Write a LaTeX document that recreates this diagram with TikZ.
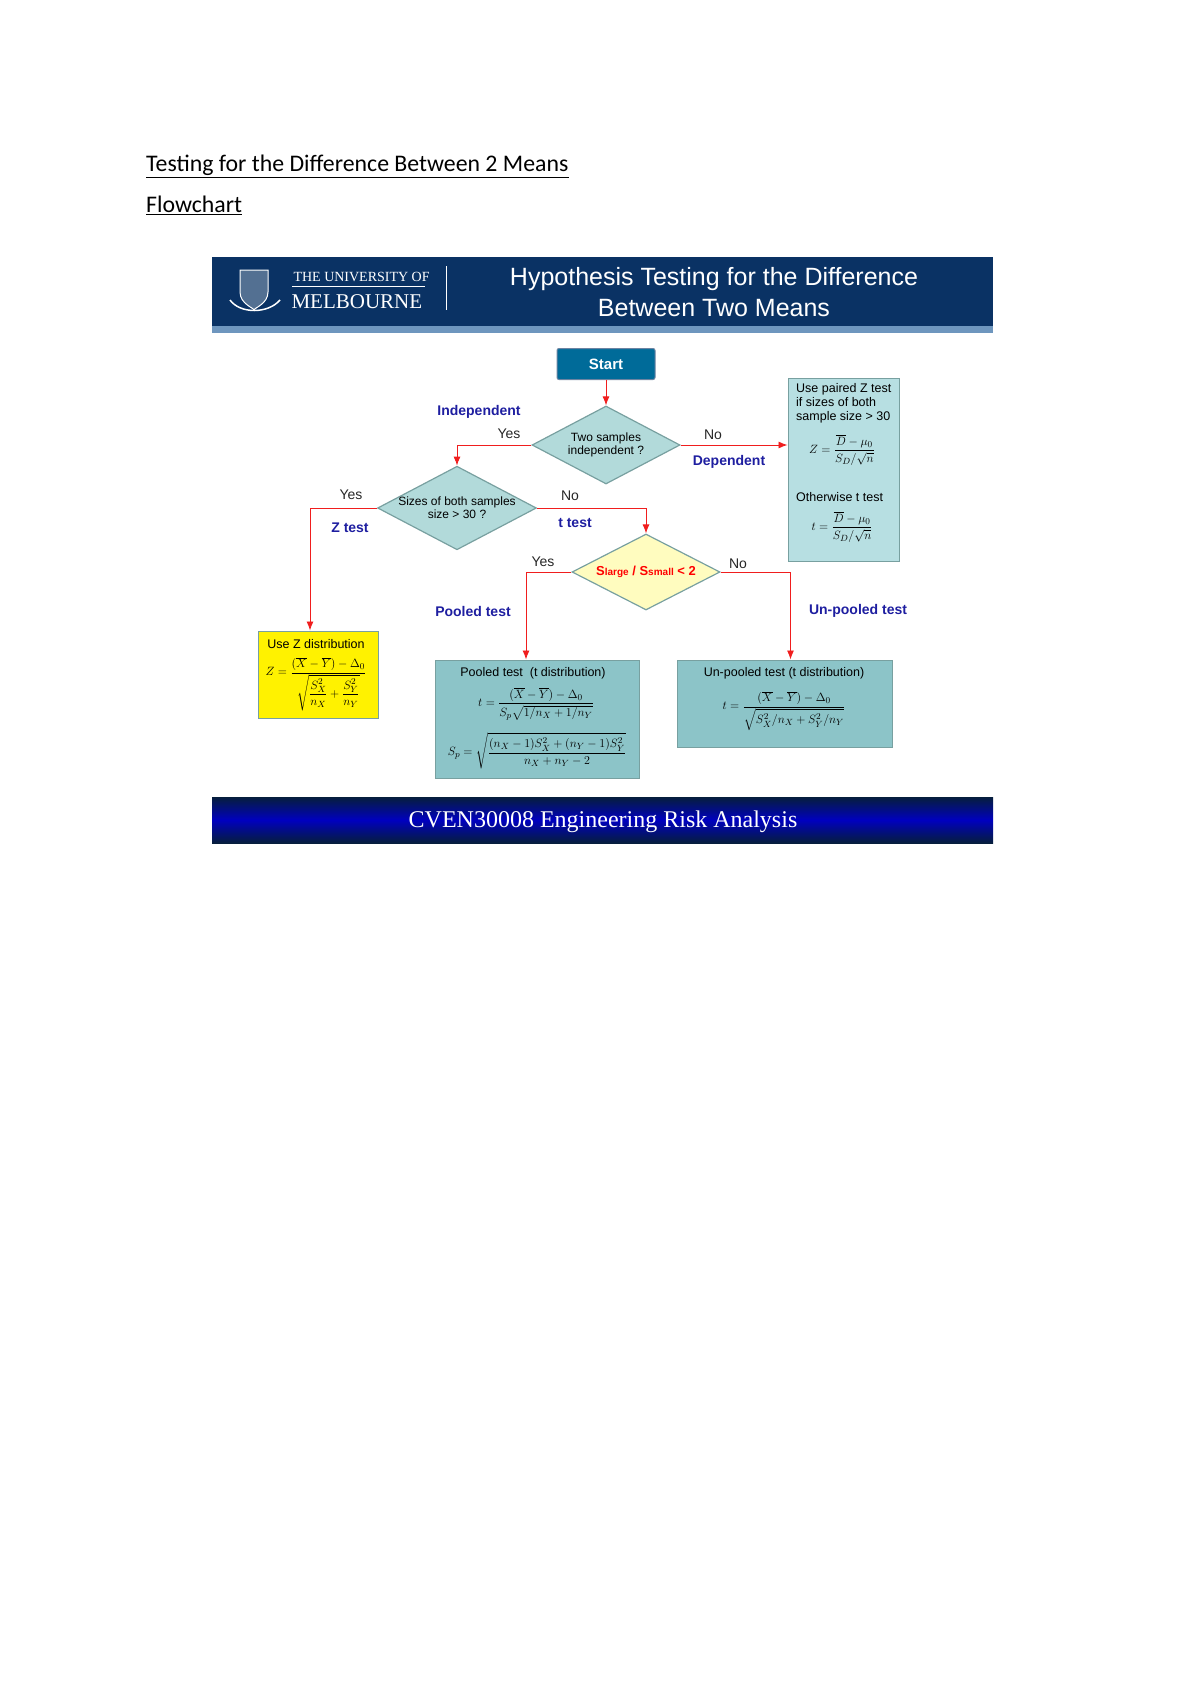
\documentclass[tikz,border=0pt]{standalone}
\usepackage{amsmath}
\usepackage{fontspec}
\setmainfont{Liberation Sans}
\newfontfamily\calib{Carlito}
\newfontfamily\tms{Liberation Serif}
\usetikzlibrary{shapes.geometric,arrows.meta}
\definecolor{navy}{RGB}{10,50,100}
\definecolor{strip}{RGB}{110,150,190}
\definecolor{dfill}{RGB}{178,218,218}
\definecolor{dline}{RGB}{120,160,160}
\definecolor{bfill1}{RGB}{183,223,226}
\definecolor{bfill2}{RGB}{140,196,200}
\definecolor{lblue}{RGB}{30,30,160}
\definecolor{arr}{RGB}{240,30,30}
\tikzset{
 dia/.style={diamond,aspect=1.9,draw=dline,line width=1.2pt,fill=dfill,inner sep=0pt,align=center,font=\fontsize{12}{13}\selectfont},
 boxa/.style={draw=dline,line width=1pt,fill=bfill1},
 conn/.style={draw=arr,line width=0.9pt,-{Latex[length=9pt,width=7pt]}},
 yn/.style={font=\fontsize{14}{16}\selectfont,text=black!85},
 bl/.style={font=\bfseries\fontsize{14}{16}\selectfont,text=lblue},
 txt/.style={font=\fontsize{12.5}{14}\selectfont,align=left,inner sep=0pt},
 mth/.style={font=\fontsize{12.5}{14}\selectfont,inner sep=0pt}
}
\begin{document}
\begin{tikzpicture}[x=1pt,y=-1pt]
\useasboundingbox (0,0) rectangle (1200,1696);
% page title
\node[anchor=base west,inner sep=0pt,font=\calib\fontsize{23.8}{26}\selectfont] (t1) at (146,172) {Testing for the Difference Between 2 Means};
\draw[line width=1.3pt] (t1.south west)++(0,1) -- ([yshift=-1pt]t1.south east);
\node[anchor=base west,inner sep=0pt,font=\calib\fontsize{23.8}{26}\selectfont] (t2) at (146,213) {Flowchart};
\draw[line width=1.3pt] (t2.south west)++(0,1) -- ([yshift=-1pt]t2.south east);
% header
\fill[strip] (212,322) rectangle (993,333);
\fill[navy] (212,257) rectangle (993,326);
\draw[white,line width=0.8pt] (446,266) -- (446,310);
% crest
\draw[white,line width=1pt,fill=navy!70!white] (240,270) -- (268,270) -- (268,292) .. controls (268,304) and (254,308) .. (254,310) .. controls (254,308) and (240,304) .. (240,292) -- cycle;
\draw[white,line width=1.5pt] (230,300) .. controls (240,314) and (268,314) .. (280,300);
\node[text=white,font=\tms\fontsize{14}{15}\selectfont,anchor=west] (u1) at (290,277) {THE UNIVERSITY OF};
\draw[white,line width=0.4pt] (292,286) -- (425,286);
\node[text=white,font=\tms\fontsize{21}{22}\selectfont,anchor=west] (u2) at (288,302) {MELBOURNE};
\node[text=white,font=\fontsize{25}{31}\selectfont,align=center] (ht) at (714,292) {Hypothesis Testing for the Difference\\Between Two Means};
% footer
\shade[top color=navy!60!black,bottom color=navy!60!black,middle color=blue!75!black] (212,797) rectangle (993,843);
\node[text=white,font=\tms\fontsize{24}{26}\selectfont] (ft) at (603,822) {CVEN30008 Engineering Risk Analysis};
% nodes
\node[draw=navy!60,line width=1pt,fill=blue!30!cyan!60!black,rounded corners=2pt,minimum width=98pt,minimum height=31pt,text=white,font=\bfseries\fontsize{15}{17}\selectfont] (start) at (606,364) {Start};
\node[dia,minimum width=148pt,minimum height=78pt] (d1) at (606,445) {Two samples\\independent ?};
\node[dia,minimum width=148pt,minimum height=72pt] (d2) at (457,508) {Sizes of both samples\\size > 30 ?};
\node[dia,minimum width=148pt,minimum height=76pt,fill=yellow!25,text=red,font=\bfseries\fontsize{13}{14}\selectfont] (d3) at (646,572) {S{\fontsize{10}{11}\selectfont large} / S{\fontsize{10}{11}\selectfont small} < 2};
\node[boxa,minimum width=111pt,minimum height=183pt] (rb) at (843.5,469.5) {};
\node[txt,anchor=north west] at (796,383) {Use paired Z test\\if sizes of both\\sample size > 30};
\node[mth] at (842,450) {$Z=\dfrac{\overline{D}-\mu_0}{S_D/\sqrt{n}}$};
\node[txt,anchor=north west] at (796,492) {Otherwise t test};
\node[mth] at (842,527) {$t=\dfrac{\overline{D}-\mu_0}{S_D/\sqrt{n}}$};
\node[draw=dline,line width=1pt,fill=yellow,minimum width=120pt,minimum height=87pt] (yb) at (318,674.5) {};
\node[txt] at (316,644) {Use Z distribution};
\node[mth] at (316,684) {$Z=\dfrac{(\overline{X}-\overline{Y})-\Delta_0}{\sqrt{\dfrac{S_X^2}{n_X}+\dfrac{S_Y^2}{n_Y}}}$};
\node[boxa,fill=bfill2,minimum width=204pt,minimum height=118pt] (pb) at (537,719) {};
\node[txt] at (533,673) {Pooled test\ \ (t distribution)};
\node[mth] at (536,704) {$t=\dfrac{(\overline{X}-\overline{Y})-\Delta_0}{S_p\sqrt{1/n_X+1/n_Y}}$};
\node[mth] at (537,751) {$S_p=\sqrt{\dfrac{(n_X-1)S_X^2+(n_Y-1)S_Y^2}{n_X+n_Y-2}}$};
\node[boxa,fill=bfill2,minimum width=215pt,minimum height=87pt] (ub) at (784.5,703.5) {};
\node[txt] at (784,673) {Un-pooled test (t distribution)};
\node[mth] at (784,711) {$t=\dfrac{(\overline{X}-\overline{Y})-\Delta_0}{\sqrt{S_X^2/n_X+S_Y^2/n_Y}}$};
% connectors
\draw[conn] (start.south) -- (d1.north);
\draw[conn] (d1.west) -| (d2.north);
\draw[conn] (d1.east) -- (rb.west |- d1.east);
\draw[conn] (d2.west) -| ([xshift=-8pt]yb.north);
\draw[conn] (d2.east) -| (d3.north);
\draw[conn] (d3.west) -| ([xshift=-11pt]pb.north);
\draw[conn] (d3.east) -| ([xshift=6pt]ub.north);
% labels
\node[yn] at (509,434) {Yes};
\node[bl] at (479,412) {Independent};
\node[yn] at (713,435) {No};
\node[bl] at (729,462) {Dependent};
\node[yn] at (351,495) {Yes};
\node[bl] at (350,528) {Z test};
\node[yn] at (570,496) {No};
\node[bl] at (575,523) {t test};
\node[yn] at (543,562) {Yes};
\node[bl] at (473,611) {Pooled test};
\node[yn] at (738,564) {No};
\node[bl] at (858,611) {Un-pooled test};
\end{tikzpicture}
\end{document}
